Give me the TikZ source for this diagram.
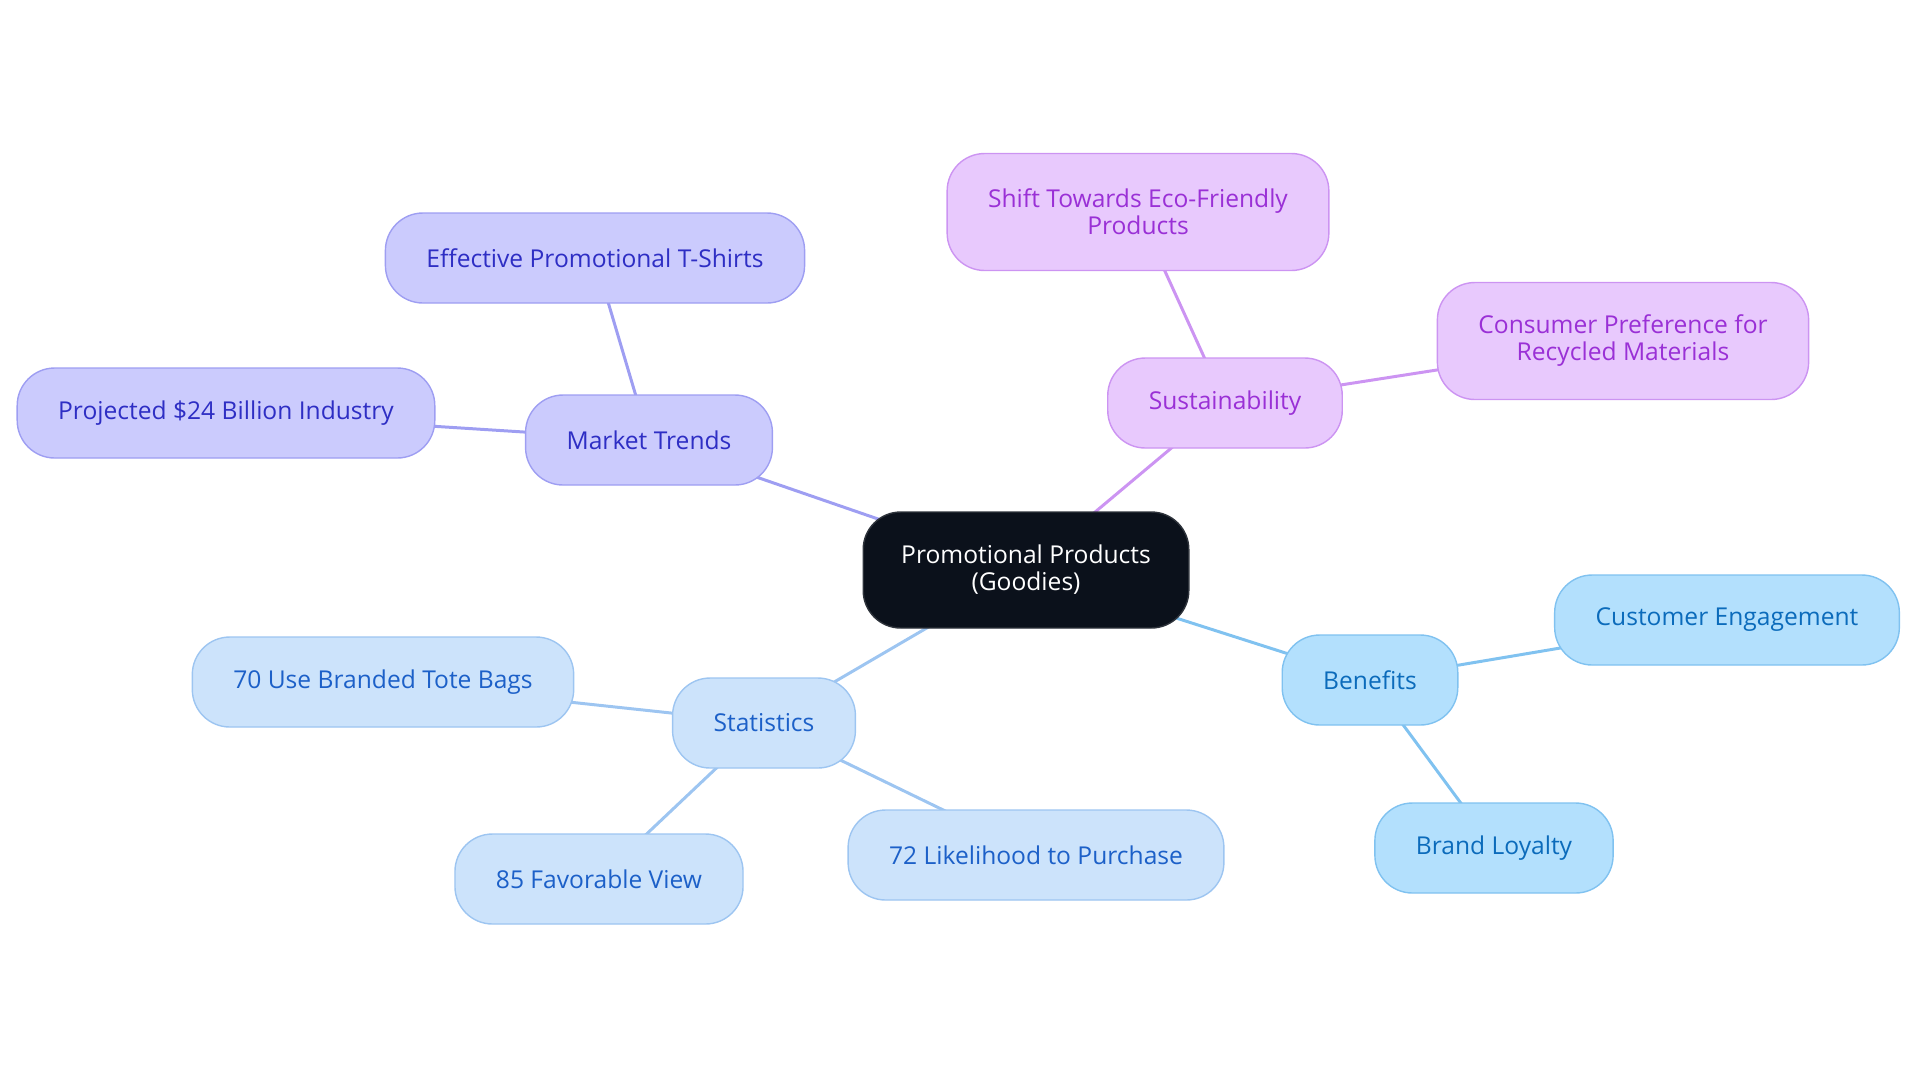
\documentclass[tikz,border=0pt]{standalone}
\usepackage{fontspec}
\setmainfont{Open Sans}
\usepackage{tikz}
\usetikzlibrary{positioning, backgrounds}

\definecolor{rootfill}{HTML}{0B111B}
\definecolor{rootdraw}{HTML}{2E333B}
\definecolor{trendfill}{HTML}{CBCBFD}
\definecolor{trenddraw}{HTML}{9E9EF2}
\definecolor{trendtext}{HTML}{2E2EC4}
\definecolor{susfill}{HTML}{E8C9FD}
\definecolor{susdraw}{HTML}{CC94F2}
\definecolor{sustext}{HTML}{9A30D6}
\definecolor{benfill}{HTML}{B3E0FD}
\definecolor{bendraw}{HTML}{80C2F0}
\definecolor{bentext}{HTML}{0B6BBB}
\definecolor{statfill}{HTML}{CCE3FB}
\definecolor{statdraw}{HTML}{9DC5F1}
\definecolor{stattext}{HTML}{1C60C8}

\begin{document}
\begin{tikzpicture}[x=0.02cm,y=-0.02cm,
  base node/.style={rectangle,rounded corners=0.75cm,line width=0.8pt,align=center,outer sep=0pt,
    inner xsep=0.82cm,minimum height=1.8cm,font=\fontsize{14}{15.4}\selectfont},
  root node/.style={base node,fill=rootfill,draw=rootdraw,text=white,minimum height=2.32cm,inner xsep=0.76cm},
  trend node/.style={base node,fill=trendfill,draw=trenddraw,text=trendtext},
  sus node/.style={base node,fill=susfill,draw=susdraw,text=sustext},
  ben node/.style={base node,fill=benfill,draw=bendraw,text=bentext},
  stat node/.style={base node,fill=statfill,draw=statdraw,text=stattext},
  two lines/.style={minimum height=2.34cm},
  link/.style={every edge/.append style={line width=1.7pt}}]
  \useasboundingbox (0,0) rectangle (1920,1083);

  \node[root node] (root) at (1026,570) {Promotional Products\\(Goodies)};

  \node[trend node] (trend) at (649,440) {Market Trends};
  \node[trend node] (tshirts) at (595,258) {Effective Promotional T-Shirts};
  \node[trend node] (industry) at (226,413) {Projected \$24 Billion Industry};

  \node[sus node] (sus) at (1225,403) {Sustainability};
  \node[sus node, two lines] (eco) at (1138,212) {Shift Towards Eco-Friendly\\Products};
  \node[sus node, two lines] (recycled) at (1623,341) {Consumer Preference for\\Recycled Materials};

  \node[ben node] (ben) at (1370,680) {Benefits};
  \node[ben node] (engage) at (1727,620) {Customer Engagement};
  \node[ben node] (loyalty) at (1494,848) {Brand Loyalty};

  \node[stat node] (stat) at (764,723) {Statistics};
  \node[stat node] (tote) at (383,682) {70 Use Branded Tote Bags};
  \node[stat node] (view) at (599,879) {85 Favorable View};
  \node[stat node] (purchase) at (1036,855) {72 Likelihood to Purchase};

  % connectors run centre to centre, under the boxes
  \begin{scope}[on background layer]
  \path[link, draw=trenddraw, line width=1.7pt]
     (root.center)  edge (trend.center)
     (trend.center) edge (tshirts.center)
                    edge (industry.center);
  \path[link, draw=susdraw, line width=1.7pt]
     (root.center)  edge (sus.center)
     (sus.center)   edge (eco.center)
                    edge (recycled.center);
  \path[link, draw=bendraw, line width=1.7pt]
     (root.center)  edge (ben.center)
     (ben.center)   edge (engage.center)
                    edge (loyalty.center);
  \path[link, draw=statdraw, line width=1.7pt]
     (root.center)  edge (stat.center)
     (stat.center)  edge (tote.center)
                    edge (view.center)
                    edge (purchase.center);
  \end{scope}
\end{tikzpicture}
\end{document}
